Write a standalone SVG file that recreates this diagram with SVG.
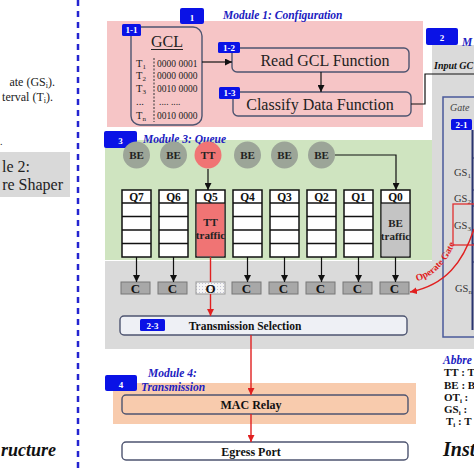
<svg xmlns="http://www.w3.org/2000/svg" width="474" height="474" viewBox="0 0 474 474">
<defs>
<marker id="ak" viewBox="0 0 10 10" refX="10" refY="5" markerWidth="7" markerHeight="7" markerUnits="userSpaceOnUse" orient="auto"><path d="M0,0 L10,5 L0,10 z" fill="#111"/></marker>
<marker id="ar" viewBox="0 0 10 10" refX="10" refY="5" markerWidth="7" markerHeight="7" markerUnits="userSpaceOnUse" orient="auto"><path d="M0,0 L10,5 L0,10 z" fill="#e02020"/></marker>
<pattern id="dots" width="3" height="3" patternUnits="userSpaceOnUse"><rect width="3" height="3" fill="#f4f4f4"/><circle cx="1.5" cy="1.5" r="0.5" fill="#b0b0c8"/></pattern>
</defs>
<style>
.serif{font-family:"Liberation Serif","Times New Roman",serif}
.lbl{fill:#0a12e6}
.lblt{font-family:"Liberation Serif",serif;font-weight:bold;fill:#fff;font-size:9px;text-anchor:middle}
.mod{font-family:"Liberation Serif",serif;font-weight:bold;font-style:italic;fill:#2020c0;font-size:11.5px}
.box{stroke:#4d5470;stroke-width:1.4}
.q{fill:#fff;stroke:#111;stroke-width:1.5}
.ql{stroke:#111;stroke-width:1.3}
.qh{font-family:"Liberation Serif",serif;font-weight:bold;font-size:11.5px;text-anchor:middle;fill:#111}
.c{fill:#a8a8a8;stroke:#777;stroke-width:1}
.ct{font-family:"Liberation Serif",serif;font-weight:bold;font-size:13px;text-anchor:middle;fill:#111}
.ck{stroke:#111;stroke-width:1.2;fill:none}
.cr{stroke:#e02020;stroke-width:1.4;fill:none}
.be{fill:#9ca598}
.ctext{font-family:"Liberation Serif",serif;font-weight:bold;font-size:11px;text-anchor:middle;fill:#222}
.gs{font-family:"Liberation Serif",serif;font-size:10.5px;fill:#333}
.ab{font-family:"Liberation Serif",serif;font-weight:bold;font-size:11px;fill:#111}
</style>
<rect width="474" height="474" fill="#fff"/>

<g id="left-panel">
<text class="serif" x="55" y="86" font-size="12" text-anchor="end" fill="#222">ate (GS<tspan font-size="8" dy="2">i</tspan><tspan dy="-2">).</tspan></text>
<text class="serif" x="53" y="101" font-size="12" text-anchor="end" fill="#222">terval (T<tspan font-size="8" dy="2">i</tspan><tspan dy="-2">).</tspan></text>
<text class="serif" x="0" y="145" font-size="10" fill="#222">.</text>
<rect x="0" y="152" width="70" height="45" fill="#d9d9d9"/>
<text class="serif" x="30" y="172" font-size="16" text-anchor="end" fill="#222">le 2:</text>
<text class="serif" x="63" y="190" font-size="16" text-anchor="end" fill="#222">re Shaper</text>
<text class="serif" x="56" y="456" font-size="18" font-weight="bold" font-style="italic" text-anchor="end" fill="#111">ructure</text>
</g>
<line x1="78" y1="0" x2="78" y2="470" stroke="#2424d0" stroke-width="2.5" stroke-dasharray="6 5"/>

<g id="module1">
<rect x="107" y="21" width="316" height="106" fill="#f6c5c6"/>
<rect x="180" y="8" width="24" height="16" rx="2" class="lbl"/>
<text x="192" y="21" class="lblt" font-size="12">1</text>
<text x="223" y="19" class="mod">Module 1: Configuration</text>
</g>
<g id="module2">
<path d="M432 45 H474 V349 H105 V261 H432 Z" fill="#dadada"/>
<rect x="426" y="28" width="32" height="17" rx="2" class="lbl"/>
<text x="442" y="41" class="lblt" font-size="12">2</text>
<text x="462" y="46" class="mod" font-size="17">M</text>
<text x="434" y="69" class="serif" font-size="10" font-weight="bold" font-style="italic" fill="#111">Input GC</text>
</g>
<g id="module3">
<rect x="105" y="140" width="327" height="120" fill="#cfe4c0"/>
<rect x="104" y="131" width="33" height="17" rx="2" class="lbl"/>
<text x="120.5" y="144" class="lblt" font-size="12">3</text>
<text x="143" y="143" class="mod">Module 3: Queue</text>
</g>
<g id="module4">
<rect x="113" y="383" width="303" height="41" fill="#f8cbad"/>
<rect x="105" y="375" width="32" height="16" rx="2" class="lbl"/>
<text x="121" y="387.5" class="lblt" font-size="12">4</text>
<text x="148" y="377" class="mod">Module 4:</text>
<text x="141" y="391" class="mod">Transmission</text>
</g>

<g id="gcl">
<rect x="131" y="27" width="71" height="98" rx="9" fill="#f6c5c6" class="box"/>
<rect x="122" y="24" width="19" height="12" rx="1.5" class="lbl"/>
<text x="131.5" y="33" class="lblt">1-1</text>
<text x="167" y="47" class="serif" font-size="16" text-anchor="middle" fill="#222">GCL</text>
<line x1="151" y1="49.5" x2="183" y2="49.5" stroke="#222" stroke-width="1"/>
<line x1="154" y1="58" x2="154" y2="122" stroke="#333" stroke-width="1" stroke-dasharray="2 1.5"/>
<g class="serif" font-size="10.5" fill="#222">
<text x="136" y="67">T<tspan font-size="7" dy="2">1</tspan></text>
<text x="136" y="79">T<tspan font-size="7" dy="2">2</tspan></text>
<text x="136" y="91.5">T<tspan font-size="7" dy="2">3</tspan></text>
<text x="136" y="105">...</text>
<text x="136" y="119">T<tspan font-size="7" dy="2">n</tspan></text>
</g>
<g class="serif" font-size="9.5" fill="#222">
<text x="157" y="67">0000 0001</text>
<text x="157" y="79">0000 0000</text>
<text x="157" y="91.5">0010 0000</text>
<text x="159" y="105">....   ....</text>
<text x="157" y="119">0010 0000</text>
</g>
</g>

<g id="read-gcl">
<rect x="232" y="48" width="177" height="24" rx="5" fill="#f6c5c6" class="box"/>
<rect x="218" y="42" width="22" height="11" rx="1.5" class="lbl"/>
<text x="229" y="50.5" class="lblt">1-2</text>
<text x="325" y="66" class="serif" font-size="16" text-anchor="middle" fill="#222">Read GCL Function</text>
</g>
<g id="classify">
<rect x="233" y="92" width="178" height="24" rx="5" fill="#f6c5c6" class="box"/>
<rect x="219" y="87" width="21" height="12" rx="1.5" class="lbl"/>
<text x="229.5" y="96" class="lblt">1-3</text>
<text x="320" y="110" class="serif" font-size="16" text-anchor="middle" fill="#222">Classify Data Function</text>
</g>

<g id="gate">
<rect x="443" y="97" width="60" height="240" fill="none" stroke="#4a5a9a" stroke-width="1.5"/>
<text x="450" y="111" class="serif" font-size="10" font-style="italic" fill="#444">Gate</text>
<rect x="451" y="119" width="21" height="11" rx="1.5" class="lbl"/>
<text x="461.5" y="128" class="lblt">2-1</text>
<line x1="472.5" y1="130" x2="472.5" y2="330" stroke="#2a3570" stroke-width="2"/>
<g stroke="#2a3570" stroke-width="1">
<line x1="472" y1="158" x2="476" y2="158"/>
<line x1="472" y1="190" x2="476" y2="190"/>
<line x1="472" y1="206" x2="476" y2="206"/>
<line x1="472" y1="244" x2="476" y2="244"/>
<line x1="472" y1="262" x2="476" y2="262"/>
</g>
<text x="454" y="176" class="gs">GS<tspan font-size="7" dy="2">1</tspan></text>
<text x="454" y="202" class="gs">GS<tspan font-size="7" dy="2">2</tspan></text>
<text x="454" y="229" class="gs">GS<tspan font-size="7" dy="2">3</tspan></text>
<text x="455" y="292" class="gs">GS<tspan font-size="7" dy="2">n</tspan></text>
<rect x="453" y="204" width="30" height="41" fill="none" stroke="#e03030" stroke-width="1.3"/>
</g>

<g id="traffic">
<circle cx="136.5" cy="155" r="13.5" class="be"/><text x="136.5" y="159" class="ctext">BE</text>
<circle cx="173.5" cy="155" r="13.5" class="be"/><text x="173.5" y="159" class="ctext">BE</text>
<circle cx="208" cy="155" r="13.5" fill="#f07474"/><text x="208" y="159" class="ctext">TT</text>
<circle cx="247.5" cy="155" r="13.5" class="be"/><text x="247.5" y="159" class="ctext">BE</text>
<circle cx="284.5" cy="155" r="13.5" class="be"/><text x="284.5" y="159" class="ctext">BE</text>
<circle cx="321.5" cy="155" r="13.5" class="be"/><text x="321.5" y="159" class="ctext">BE</text>
</g>

<g id="queues">
<g id="q7"><rect x="122" y="190" width="29" height="67" class="q"/><path d="M122 203H151M122 216.5H151M122 230H151M122 243.5H151" class="ql"/><text x="136.5" y="201" class="qh">Q7</text></g>
<g id="q6"><rect x="159" y="190" width="29" height="67" class="q"/><path d="M159 203H188M159 216.5H188M159 230H188M159 243.5H188" class="ql"/><text x="173.5" y="201" class="qh">Q6</text></g>
<g id="q5"><rect x="196" y="190" width="29" height="67" class="q"/><rect x="196.75" y="203" width="27.5" height="53.25" fill="#f07474"/><path d="M196 203H225" class="ql"/><text x="210.5" y="201" class="qh">Q5</text><text x="210.5" y="226" class="ctext" font-size="9.5">TT</text><text x="210.5" y="239" class="ctext" font-size="9.5">traffic</text></g>
<g id="q4"><rect x="233" y="190" width="29" height="67" class="q"/><path d="M233 203H262M233 216.5H262M233 230H262M233 243.5H262" class="ql"/><text x="247.5" y="201" class="qh">Q4</text></g>
<g id="q3"><rect x="270" y="190" width="29" height="67" class="q"/><path d="M270 203H299M270 216.5H299M270 230H299M270 243.5H299" class="ql"/><text x="284.5" y="201" class="qh">Q3</text></g>
<g id="q2"><rect x="307" y="190" width="29" height="67" class="q"/><path d="M307 203H336M307 216.5H336M307 230H336M307 243.5H336" class="ql"/><text x="321.5" y="201" class="qh">Q2</text></g>
<g id="q1"><rect x="344" y="190" width="29" height="67" class="q"/><path d="M344 203H373M344 216.5H373M344 230H373M344 243.5H373" class="ql"/><text x="358.5" y="201" class="qh">Q1</text></g>
<g id="q0"><rect x="381" y="190" width="29" height="67" class="q"/><rect x="381.75" y="203" width="27.5" height="53.25" fill="#c4c4c4"/><path d="M381 203H410" class="ql"/><text x="395.5" y="201" class="qh">Q0</text><text x="395.5" y="227" class="ctext" font-size="9.5">BE</text><text x="395.5" y="240" class="ctext" font-size="9.5">traffic</text></g>
</g>

<g id="gates-c">
<rect x="121" y="282" width="29" height="12" class="c"/><text x="135.5" y="293" class="ct">C</text>
<rect x="158" y="282" width="29" height="12" class="c"/><text x="172.5" y="293" class="ct">C</text>
<rect x="196" y="282" width="29" height="12" fill="url(#dots)" stroke="#999" stroke-width="1"/><text x="210.5" y="293" class="ct" fill="#e02020">O</text>
<rect x="232" y="282" width="29" height="12" class="c"/><text x="246.5" y="293" class="ct">C</text>
<rect x="269" y="282" width="29" height="12" class="c"/><text x="283.5" y="293" class="ct">C</text>
<rect x="306" y="282" width="29" height="12" class="c"/><text x="320.5" y="293" class="ct">C</text>
<rect x="343" y="282" width="29" height="12" class="c"/><text x="357.5" y="293" class="ct">C</text>
<rect x="380" y="282" width="29" height="12" class="c"/><text x="394.5" y="293" class="ct">C</text>
</g>

<g id="trans-sel">
<rect x="120" y="316" width="287" height="19" rx="4" fill="#eef0f5" class="box"/>
<rect x="140" y="319" width="25" height="12" rx="1.5" class="lbl"/>
<text x="152.5" y="328.5" class="lblt">2-3</text>
<text x="245" y="330" class="serif" font-size="11.5" font-weight="bold" text-anchor="middle" fill="#111">Transmission Selection</text>
</g>
<g id="mac-relay">
<rect x="122" y="395" width="286" height="19" rx="4" fill="#f8cbad" class="box"/>
<text x="251" y="409" class="serif" font-size="12" font-weight="bold" text-anchor="middle" fill="#111">MAC Relay</text>
</g>
<g id="egress">
<rect x="122" y="442" width="286" height="18" rx="4" fill="#fff" class="box"/>
<text x="251" y="455.5" class="serif" font-size="12" font-weight="bold" text-anchor="middle" fill="#111">Egress Port</text>
</g>

<g id="abbrev">
<text x="443" y="364" class="mod" font-size="11">Abbre</text>
<text x="444" y="376" class="ab">TT : T</text>
<text x="444" y="388.5" class="ab">BE : B</text>
<text x="444" y="401" class="ab" font-size="10.5">OT<tspan font-size="7" dy="1.5">i</tspan><tspan dy="-1.5"> :</tspan></text>
<text x="444" y="413" class="ab" font-size="10.5">GS<tspan font-size="7" dy="1.5">i</tspan><tspan dy="-1.5"> :</tspan></text>
<text x="446" y="425" class="ab" font-size="10.5">T<tspan font-size="7" dy="1.5">i</tspan><tspan dy="-1.5"> : T</tspan></text>
<text x="443" y="456" class="serif" font-size="20" font-weight="bold" font-style="italic" fill="#111">Inst</text>
</g>

<g id="connectors">
<line x1="202" y1="62" x2="232" y2="62" class="ck" marker-end="url(#ak)"/>
<line x1="321" y1="72" x2="321" y2="92" class="ck" marker-end="url(#ak)"/>
<path d="M411 104 H425 V74 H474" class="ck"/>
<line x1="208" y1="169" x2="208" y2="190" class="ck" marker-end="url(#ak)"/>
<path d="M335 155 H396 V190" class="ck" marker-end="url(#ak)"/>
<line x1="136.5" y1="257" x2="136.5" y2="282" class="ck" marker-end="url(#ak)"/>
<line x1="173.5" y1="257" x2="173.5" y2="282" class="ck" marker-end="url(#ak)"/>
<line x1="210.5" y1="257" x2="210.5" y2="282" class="cr"/>
<line x1="247.5" y1="257" x2="247.5" y2="282" class="ck" marker-end="url(#ak)"/>
<line x1="284.5" y1="257" x2="284.5" y2="282" class="ck" marker-end="url(#ak)"/>
<line x1="321.5" y1="257" x2="321.5" y2="282" class="ck" marker-end="url(#ak)"/>
<line x1="358.5" y1="257" x2="358.5" y2="282" class="ck" marker-end="url(#ak)"/>
<line x1="395.5" y1="257" x2="395.5" y2="282" class="ck" marker-end="url(#ak)"/>
<line x1="210.5" y1="294" x2="210.5" y2="316" class="cr" marker-end="url(#ar)"/>
<line x1="251" y1="335" x2="251" y2="395" class="cr" marker-end="url(#ar)"/>
<line x1="251" y1="414" x2="251" y2="442" class="cr" marker-end="url(#ar)"/>
<path d="M474 229 C463 262 446 285 410 292" class="cr" marker-end="url(#ar)"/>
<path id="opg" d="M417 281 C436 276 449 260 457 238" fill="none"/>
<text class="serif" font-size="9.5" font-weight="bold" fill="#e02020"><textPath href="#opg">Operate Gate</textPath></text>
</g>
</svg>
